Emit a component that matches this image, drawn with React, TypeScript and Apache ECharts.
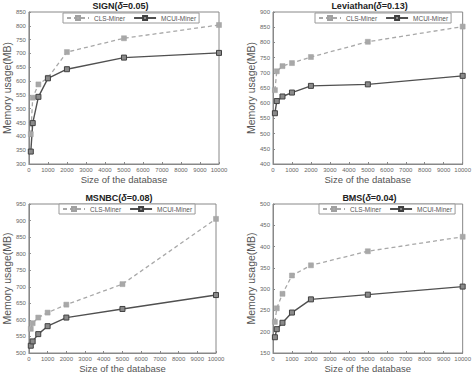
import React, { useEffect, useRef } from "react";
import * as echarts from "echarts";

const sizes = [100, 200, 500, 1000, 2000, 5000, 10000];

const titles = [
  { name: "SIGN", delta: "0.05" },
  { name: "Leviathan", delta: "0.13" },
  { name: "MSNBC", delta: "0.08" },
  { name: "BMS", delta: "0.04" },
];

const clsSign = [408, 540, 588, 612, 705, 755, 803];
const mcuiSign = [345, 448, 543, 610, 643, 685, 702];
const clsLev = [643, 705, 722, 732, 752, 802, 852];
const mcuiLev = [567, 607, 622, 635, 657, 662, 690];
const clsMsnbc = [573, 590, 607, 622, 646, 708, 905];
const mcuiMsnbc = [522, 535, 557, 581, 607, 633, 675];
const clsBms = [223, 255, 289, 332, 356, 389, 423];
const mcuiBms = [187, 206, 221, 245, 276, 287, 306];

const yRanges = [
  [300, 850],
  [400, 900],
  [500, 950],
  [150, 500],
];

const clsData = [clsSign, clsLev, clsMsnbc, clsBms];
const mcuiData = [mcuiSign, mcuiLev, mcuiMsnbc, mcuiBms];

const grids = [
  { left: 22, top: 12, width: 197, height: 152 },
  { left: 273, top: 12, width: 193, height: 152 },
  { left: 22, top: 204, width: 194, height: 150 },
  { left: 273, top: 204, width: 193, height: 151 },
];

const FONT = "Liberation Sans";

export default function App() {
  const ref = useRef<HTMLDivElement>(null);
  useEffect(() => {
    if (!ref.current) return;
    const chart = echarts.init(ref.current, null, { renderer: "svg" });
    const xAxis = grids.map((g, i) => ({
      type: "value",
      gridIndex: i,
      min: 0,
      max: 10000,
      interval: 1000,
      name: "Size of the database",
      nameLocation: "middle",
      nameGap: 10,
      nameTextStyle: { fontFamily: FONT, fontSize: 9.5, color: "#555" },
      axisLine: { lineStyle: { color: "#888", width: 1 } },
      axisTick: { inside: true, length: 2, lineStyle: { color: "#888" } },
      axisLabel: {
        fontFamily: FONT,
        fontSize: 6,
        color: "#666",
        margin: 3,
        formatter: (v: number) => String(v),
      },
      splitLine: { show: false },
    }));
    const yAxis = grids.map((g, i) => ({
      type: "value",
      gridIndex: i,
      min: yRanges[i][0],
      max: yRanges[i][1],
      interval: 50,
      name: "Memory usage(MB)",
      nameLocation: "middle",
      nameGap: 12,
      nameTextStyle: { fontFamily: FONT, fontSize: 10.5, color: "#555" },
      axisLine: { lineStyle: { color: "#888", width: 1 } },
      axisTick: { inside: true, length: 2, lineStyle: { color: "#888" } },
      axisLabel: {
        fontFamily: FONT,
        fontSize: 6,
        color: "#666",
        margin: 3,
        formatter: (v: number) => String(v),
      },
      splitLine: { show: false },
    }));
    const series: any[] = [];
    grids.forEach((g, i) => {
      series.push({
        type: "line",
        name: "CLS-Miner",
        xAxisIndex: i,
        yAxisIndex: i,
        data: sizes.map((s, k) => [s, clsData[i][k]]),
        symbol: "rect",
        symbolSize: 5,
        lineStyle: { color: "#a8a8a8", width: 1.3, type: [4, 3] },
        itemStyle: { color: "#a8a8a8", borderColor: "#a0a0a0", borderWidth: 0.5 },
      });
      series.push({
        type: "line",
        name: "MCUI-Miner",
        xAxisIndex: i,
        yAxisIndex: i,
        data: sizes.map((s, k) => [s, mcuiData[i][k]]),
        symbol: "rect",
        symbolSize: 5,
        lineStyle: { color: "#505050", width: 1.4 },
        itemStyle: { color: "#8a8a8a", borderColor: "#404040", borderWidth: 1 },
      });
    });
    const legendPos = [
      { left: 63, top: 13 },
      { left: 315, top: 13 },
      { left: 59, top: 204 },
      { left: 319, top: 204 },
    ];
    const legend = legendPos.map((p) => ({
      left: p.left,
      top: p.top,
      data: ["CLS-Miner", "MCUI-Miner"],
      orient: "horizontal",
      itemWidth: 22,
      itemHeight: 5,
      itemGap: 8,
      padding: [1.5, 3, 1.5, 3],
      borderColor: "#999",
      borderWidth: 1,
      backgroundColor: "#fff",
      borderRadius: 0,
      textStyle: { fontFamily: FONT, fontSize: 6.5, color: "#555" },
      selectedMode: false,
    }));
    const graphic = grids.map((g, i) => ({
      type: "text",
      x: g.left + g.width / 2,
      y: g.top - 6,
      style: {
        text: `{b|${titles[i].name}(}{i|δ}{b|=${titles[i].delta})}`,
        align: "center",
        verticalAlign: "middle",
        rich: {
          b: { fontFamily: FONT, fontSize: 9, fontWeight: "bold", fill: "#222" },
          i: { fontFamily: FONT, fontSize: 9, fontStyle: "italic", fontWeight: "bold", fill: "#222" },
        },
      },
    }));
    chart.setOption({
      animation: false,
      backgroundColor: "#fff",
      grid: grids.map((g) => ({ ...g, show: true, borderColor: "#888", borderWidth: 1, backgroundColor: "transparent" })),
      xAxis,
      yAxis,
      legend,
      series,
      graphic,
    });
    return () => chart.dispose();
  }, []);
  return (
    <div
      ref={ref}
      style={{ position: "fixed", left: 0, top: 0, width: 474, height: 374 }}
    />
  );
}
